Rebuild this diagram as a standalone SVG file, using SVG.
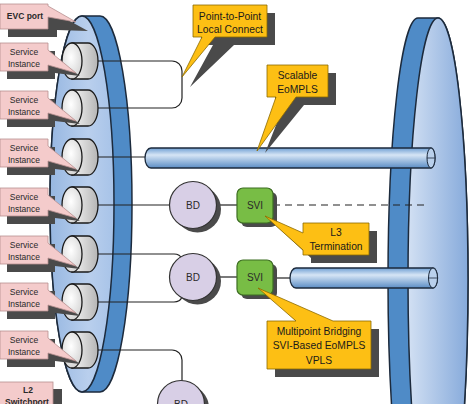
<svg xmlns="http://www.w3.org/2000/svg" width="474" height="404" viewBox="0 0 474 404">
<defs>
<linearGradient id="lface" x1="0" y1="0" x2="1" y2="0"><stop offset="0" stop-color="#97b7e1"/><stop offset="0.6" stop-color="#b9cfed"/><stop offset="1" stop-color="#a7c3e8"/></linearGradient>
<linearGradient id="rface" x1="0" y1="0" x2="1" y2="0"><stop offset="0" stop-color="#d2e0f3"/><stop offset="1" stop-color="#86aadb"/></linearGradient>
<linearGradient id="pipe" x1="0" y1="0" x2="0" y2="1"><stop offset="0" stop-color="#6f9fd3"/><stop offset="0.35" stop-color="#d6e5f5"/><stop offset="1" stop-color="#5b8dc5"/></linearGradient>
<linearGradient id="cylb" x1="0" y1="0" x2="1" y2="0"><stop offset="0" stop-color="#f5f5f5"/><stop offset="1" stop-color="#b5b5b5"/></linearGradient>
<radialGradient id="cylf" cx="0.45" cy="0.4" r="0.7"><stop offset="0" stop-color="#ffffff"/><stop offset="1" stop-color="#d0d0d0"/></radialGradient>
<symbol id="cyl" overflow="visible">
<path d="M72,-18 H88 A10,18 0 0 1 88,18 H72 Z" fill="url(#cylb)" stroke="#1a1a1a" stroke-width="1.3"/>
<ellipse cx="72" cy="0" rx="10" ry="18" fill="url(#cylf)" stroke="#1a1a1a" stroke-width="1.3"/>
</symbol>
</defs>
<style>
.t{font-family:"Liberation Sans",Arial,sans-serif;fill:#2a2a2a;text-anchor:middle}
.lab{font-size:8.5px}
.b{font-weight:bold}
.co{font-size:10.3px;fill:#1a1a1a}
.pink{fill:#f4cbcb;stroke:#b79090;stroke-width:0.8}
.sh{fill:#4a4a4a}
.yel{fill:#fdbf14;stroke:#8c6a00;stroke-width:0.8}
.ln{fill:none;stroke:#222;stroke-width:1.2}
.bd{fill:#d8cfe6;stroke:#333;stroke-width:1.2}
.svi{fill:#78bd45;stroke:#3d6e22;stroke-width:1.2}
.rim{fill:#4f8bc7;stroke:#1c2a3c;stroke-width:1.5}
</style>

<g id="left-disk">
<path class="rim" d="M82,16 L100,16 A32,188 0 0 1 100,392 L82,392 A32,188 0 0 1 82,16 Z"/>
<ellipse cx="82" cy="204" rx="32" ry="188" fill="url(#lface)" stroke="#1c2a3c" stroke-width="1.5"/>
</g>

<g id="right-disk">
<path class="rim" d="M418,18 L438,18 A30,262 0 0 1 438,542 L418,542 A30,262 0 0 1 418,18 Z"/>
<ellipse cx="438" cy="280" rx="30" ry="262" fill="url(#rface)" stroke="#1c2a3c" stroke-width="1.5"/>
</g>

<g id="connectors">
<path class="ln" d="M98,61 H172 A10,10 0 0 1 182,71 V98 A10,10 0 0 1 172,108 H98"/>
<path class="ln" d="M98,157 H147"/>
<path class="ln" d="M98,205 H170"/>
<path class="ln" d="M216,205 H237"/>
<path class="ln" d="M273,205 H425" stroke-dasharray="7,5"/>
<path class="ln" d="M98,254 H174 Q180,254 182,259"/>
<path class="ln" d="M98,302 H174 Q180,302 182,297"/>
<path class="ln" d="M216,277 H237"/>
<path class="ln" d="M273,278 H291"/>
<path class="ln" d="M98,350 H172 A10,10 0 0 1 182,360 V381"/>
</g>

<g id="pipe-eompls">
<path d="M151,148 L431,148 A4,10 0 0 1 431,168 L151,168 A6,10 0 0 1 151,148 Z" fill="url(#pipe)" stroke="#1c2a3c" stroke-width="1.3"/>
<ellipse cx="431" cy="158" rx="4" ry="10" fill="#b9d0ec" stroke="#1c2a3c" stroke-width="1"/>
<path d="M427,158 H435" stroke="#1c2a3c" stroke-width="0.8"/>
</g>
<g id="pipe-vpls">
<path d="M296,268 L433,268 A4.5,10 0 0 1 433,288 L296,288 A6,10 0 0 1 296,268 Z" fill="url(#pipe)" stroke="#1c2a3c" stroke-width="1.3"/>
<ellipse cx="433" cy="278" rx="4.5" ry="10" fill="#b9d0ec" stroke="#1c2a3c" stroke-width="1"/>
<path d="M428.5,278 H437.5" stroke="#1c2a3c" stroke-width="0.8"/>
</g>

<g id="cylinders">
<use href="#cyl" x="0" y="61"/>
<use href="#cyl" x="0" y="108"/>
<use href="#cyl" x="0" y="157"/>
<use href="#cyl" x="0" y="205"/>
<use href="#cyl" x="0" y="254"/>
<use href="#cyl" x="0" y="302"/>
<use href="#cyl" x="0" y="350"/>
</g>

<g id="bd1"><circle class="sh" cx="197.5" cy="209" r="23.5"/><circle class="bd" cx="193" cy="205" r="23.5"/><text class="t" x="193" y="208.5" font-size="10">BD</text></g>
<g id="bd2"><circle class="sh" cx="197.5" cy="281" r="23.5"/><circle class="bd" cx="193" cy="277" r="23.5"/><text class="t" x="193" y="280.5" font-size="10">BD</text></g>
<g id="bd3"><circle class="sh" cx="185.5" cy="408" r="23.5"/><circle class="bd" cx="181" cy="404" r="23.5"/><text class="t" x="181" y="407.5" font-size="10">BD</text></g>

<g id="svi1"><rect class="sh" x="241" y="192" width="36" height="35" rx="6"/><rect class="svi" x="237" y="188" width="36" height="35" rx="6"/><text class="t" x="255" y="209" font-size="10">SVI</text></g>
<g id="svi2"><rect class="sh" x="241" y="264" width="36" height="35" rx="6"/><rect class="svi" x="237" y="260" width="36" height="35" rx="6"/><text class="t" x="255" y="281" font-size="10">SVI</text></g>

<g id="callout-p2p">
<path class="sh" d="M201,13 H275 V45 H234 L190,87 L213,45 H201 Z"/>
<path class="yel" d="M193,5 H267 V37 H215 L182,77 L202,37 H193 Z"/>
<text class="t co" x="230" y="19.5">Point-to-Point</text>
<text class="t co" x="230" y="32.5">Local Connect</text>
</g>
<g id="callout-scalable">
<path class="sh" d="M275,73 H336 V105 H304 L265,153 L284,105 H275 Z"/>
<path class="yel" d="M267,65 H328 V97 H296 L257,151 L276,97 H267 Z"/>
<text class="t co" x="297.5" y="79">Scalable</text>
<text class="t co" x="297.5" y="93">EoMPLS</text>
</g>
<g id="callout-l3">
<path class="sh" d="M311,231 H377 V263 H311 V258 L269,219 L311,240 Z"/>
<path class="yel" d="M303,223 H369 V255 H303 V250 L265,216 L303,233 Z"/>
<text class="t co" x="336" y="235.5">L3</text>
<text class="t co" x="336" y="250">Termination</text>
</g>
<g id="callout-vpls">
<path class="sh" d="M275,329 H304 L266,292 L341,329 H379 V377 H275 Z"/>
<path class="yel" d="M267,321 H296 L258,288 L333,321 H371 V369 H267 Z"/>
<text class="t co" x="319" y="334.5">Multipoint Bridging</text>
<text class="t co" x="319" y="349">SVI-Based EoMPLS</text>
<text class="t co" x="319" y="363.5">VPLS</text>
</g>

<g id="label-evc">
<path class="sh" d="M8,12 H57 V14 L88,31 L57,30 V37 H8 Z"/>
<path class="pink" d="M0,4 H48 V6 L76,22 L48,17 V29 H0 Z"/>
<text class="t lab b" x="25" y="18.5">EVC port</text>
</g>
<g id="label-si1"><path class="sh" d="M7,51 H55 V58 L80,76 L55,73 V79 H7 Z"/><path class="pink" d="M0,43 H48 V50 L76,73 L48,65 V71 H0 Z"/><text class="t lab" x="24" y="55">Service</text><text class="t lab" x="24" y="67">Instance</text></g>
<g id="label-si2"><path class="sh" d="M7,99 H55 V106 L80,124 L55,121 V127 H7 Z"/><path class="pink" d="M0,91 H48 V98 L76,121 L48,113 V119 H0 Z"/><text class="t lab" x="24" y="103">Service</text><text class="t lab" x="24" y="115">Instance</text></g>
<g id="label-si3"><path class="sh" d="M7,147 H55 V154 L80,172 L55,169 V175 H7 Z"/><path class="pink" d="M0,139 H48 V146 L76,169 L48,161 V167 H0 Z"/><text class="t lab" x="24" y="151">Service</text><text class="t lab" x="24" y="163">Instance</text></g>
<g id="label-si4"><path class="sh" d="M7,196 H55 V203 L80,221 L55,218 V224 H7 Z"/><path class="pink" d="M0,188 H48 V195 L76,218 L48,210 V216 H0 Z"/><text class="t lab" x="24" y="200">Service</text><text class="t lab" x="24" y="212">Instance</text></g>
<g id="label-si5"><path class="sh" d="M7,244 H55 V251 L80,269 L55,266 V272 H7 Z"/><path class="pink" d="M0,236 H48 V243 L76,266 L48,258 V264 H0 Z"/><text class="t lab" x="24" y="248">Service</text><text class="t lab" x="24" y="260">Instance</text></g>
<g id="label-si6"><path class="sh" d="M7,291 H55 V298 L80,316 L55,313 V319 H7 Z"/><path class="pink" d="M0,283 H48 V290 L76,313 L48,305 V311 H0 Z"/><text class="t lab" x="24" y="295">Service</text><text class="t lab" x="24" y="307">Instance</text></g>
<g id="label-si7"><path class="sh" d="M7,339 H55 V346 L80,364 L55,361 V367 H7 Z"/><path class="pink" d="M0,331 H48 V338 L76,361 L48,353 V359 H0 Z"/><text class="t lab" x="24" y="343">Service</text><text class="t lab" x="24" y="355">Instance</text></g>
<g id="label-l2"><rect class="sh" x="9" y="389" width="53" height="30"/><rect class="pink" x="-1" y="382" width="54" height="30"/><text class="t lab b" x="28" y="393">L2</text><text class="t lab b" x="27" y="405">Switchport</text></g>
</svg>
